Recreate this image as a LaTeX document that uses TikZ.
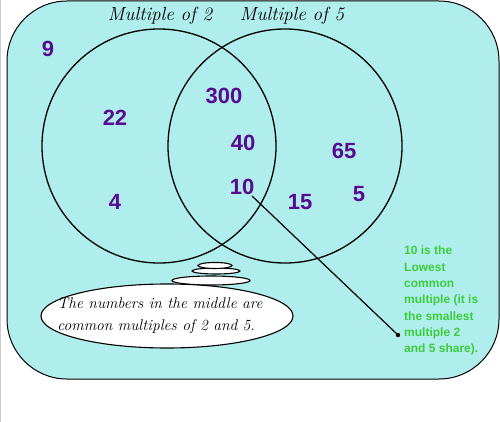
\documentclass[tikz,border=0pt]{standalone}
\usepackage{fontspec}
\setmainfont{Latin Modern Roman}
\newfontfamily\numfont{Liberation Sans}
\usetikzlibrary{shapes.geometric}
\definecolor{bgcyan}{RGB}{176,238,238}
\definecolor{numpurple}{RGB}{88,10,145}
\definecolor{notegreen}{RGB}{60,205,60}
\begin{document}
\begin{tikzpicture}[x=1pt,y=-1pt,
  num/.style={font=\numfont\bfseries\fontsize{22}{24}\selectfont, text=numpurple, inner sep=0pt},
  title/.style={font=\itshape\fontsize{19}{21}\selectfont, inner sep=0pt},
  setcircle/.style={draw=black, line width=1.3pt},
  bubble/.style={draw=black, fill=white, line width=1.1pt},
  note/.style={font=\numfont\bfseries\fontsize{12}{16.3}\selectfont, text=notegreen, align=left, inner sep=0pt, anchor=north west},
]
\useasboundingbox (0,0) rectangle (500,422);
\fill[white] (0,0) rectangle (500,422);
\draw[gray!40, line width=0.8pt] (0.5,0) -- (0.5,422);
\draw[draw=black, fill=bgcyan, line width=1pt, rounded corners=60pt] (7,1) rectangle (499,379);
% circles
\node[setcircle, circle, minimum size=234pt, inner sep=0pt] (A) at (159,146) {};
\node[setcircle, circle, minimum size=234pt, inner sep=0pt] (B) at (285,146) {};
% titles
\node[title] (tA) at (160,16) {Multiple of 2};
\node[title] (tB) at (292,16) {Multiple of 5};
% numbers
\node[num] (n9) at (48,49) {9};
\node[num] (n22) at (115,118) {22};
\node[num] (n300) at (224,96) {300};
\node[num] (n40) at (243,143) {40};
\node[num] (n65) at (344,151) {65};
\node[num] (n10) at (242,187) {10};
\node[num] (n15) at (300,202) {15};
\node[num] (n5) at (359,194) {5};
\node[num] (n4) at (115,202) {4};
% thought bubble
\node[bubble, ellipse, minimum width=78pt, minimum height=9pt, inner sep=0pt] (b1) at (211,280.5) {};
\node[bubble, ellipse, minimum width=48pt, minimum height=6pt, inner sep=0pt] (b2) at (216,271) {};
\node[bubble, ellipse, minimum width=34pt, minimum height=6pt, inner sep=0pt] (b3) at (215,265.5) {};
\node[bubble, ellipse, minimum width=252pt, minimum height=64pt, inner sep=0pt] (bub) at (167,316) {};
\node[font=\itshape\fontsize{15.5}{22}\selectfont, align=left, inner sep=0pt] (btext) at (160,316) {The numbers in the middle are\\common multiples of 2 and 5.};
% note
\coordinate (p10) at (252,196);
\coordinate (pdot) at (398,335);
\draw[line width=1.2pt] (p10) -- (pdot);
\fill (pdot) circle (2.2pt);
\node[note] (nt) at (404,246) {10 is the\\Lowest\\common\\multiple (it is\\the smallest\\multiple 2\\and 5 share).};
\end{tikzpicture}
\end{document}
